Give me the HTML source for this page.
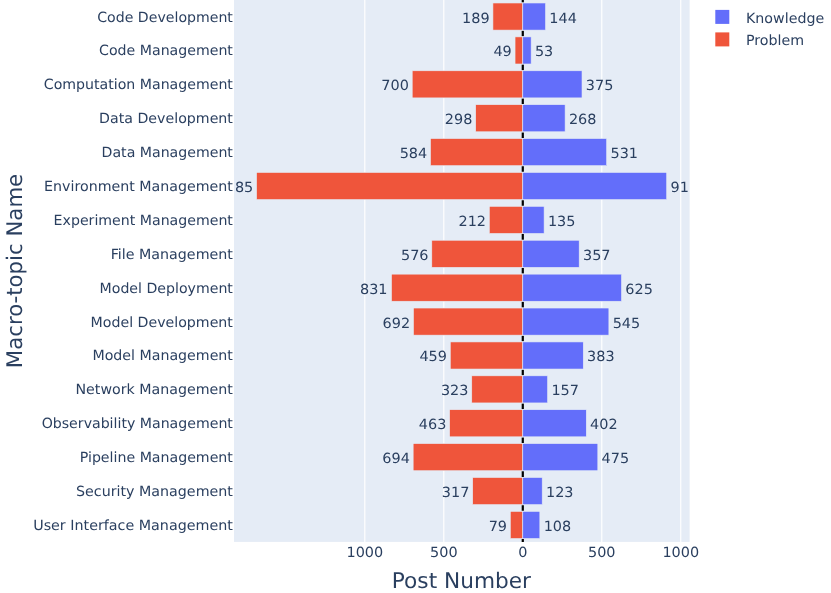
<!DOCTYPE html>
<html><head><meta charset="utf-8"><title>Macro-topic chart</title>
<style>html,body{margin:0;padding:0;background:#fff;width:831px;height:593px;overflow:hidden}</style>
</head><body>
<svg width="831" height="593" viewBox="0 0 831 593" style="display:block;filter:blur(0.35px)" font-family="DejaVu Sans, Verdana, sans-serif" font-size="14" fill="#2a3f5f" text-rendering="geometricPrecision">
<defs><clipPath id="pc"><rect x="234.0" y="-0.4" width="455.60" height="542.30"/></clipPath></defs>
<rect x="0" y="0" width="831" height="593" fill="#fff"/>
<rect x="234.0" y="-0.4" width="455.60" height="542.30" fill="#E5ECF6"/>
<line x1="364.80" y1="-0.4" x2="364.80" y2="541.9" stroke="#fff" stroke-width="1.17"/>
<line x1="443.79" y1="-0.4" x2="443.79" y2="541.9" stroke="#fff" stroke-width="1.17"/>
<line x1="601.77" y1="-0.4" x2="601.77" y2="541.9" stroke="#fff" stroke-width="1.17"/>
<line x1="680.75" y1="-0.4" x2="680.75" y2="541.9" stroke="#fff" stroke-width="1.17"/>
<path d="M522.78,-0.40V2.39 M522.78,30.70V36.28 M522.78,64.60V70.18 M522.78,98.49V104.07 M522.78,132.39V137.96 M522.78,166.28V171.86 M522.78,200.17V205.75 M522.78,234.07V239.65 M522.78,267.96V273.54 M522.78,301.85V307.43 M522.78,335.75V341.33 M522.78,369.64V375.22 M522.78,403.54V409.11 M522.78,437.43V443.01 M522.78,471.32V476.90 M522.78,505.22V510.80 M522.78,539.11V541.90" stroke="#000" stroke-width="2.2" fill="none"/>
<g clip-path="url(#pc)">
<rect x="492.92" y="2.99" width="29.86" height="27.11" fill="#EF553B" stroke="#E5ECF6" stroke-width="0.6"/>
<rect x="522.78" y="2.99" width="22.75" height="27.11" fill="#636EFA" stroke="#E5ECF6" stroke-width="0.6"/>
<rect x="515.04" y="36.88" width="7.74" height="27.11" fill="#EF553B" stroke="#E5ECF6" stroke-width="0.6"/>
<rect x="522.78" y="36.88" width="8.37" height="27.11" fill="#636EFA" stroke="#E5ECF6" stroke-width="0.6"/>
<rect x="412.20" y="70.78" width="110.58" height="27.11" fill="#EF553B" stroke="#E5ECF6" stroke-width="0.6"/>
<rect x="522.78" y="70.78" width="59.24" height="27.11" fill="#636EFA" stroke="#E5ECF6" stroke-width="0.6"/>
<rect x="475.70" y="104.67" width="47.08" height="27.11" fill="#EF553B" stroke="#E5ECF6" stroke-width="0.6"/>
<rect x="522.78" y="104.67" width="42.34" height="27.11" fill="#636EFA" stroke="#E5ECF6" stroke-width="0.6"/>
<rect x="430.52" y="138.56" width="92.26" height="27.11" fill="#EF553B" stroke="#E5ECF6" stroke-width="0.6"/>
<rect x="522.78" y="138.56" width="83.88" height="27.11" fill="#636EFA" stroke="#E5ECF6" stroke-width="0.6"/>
<rect x="256.59" y="172.46" width="266.19" height="27.11" fill="#EF553B" stroke="#E5ECF6" stroke-width="0.6"/>
<rect x="522.78" y="172.46" width="143.92" height="27.11" fill="#636EFA" stroke="#E5ECF6" stroke-width="0.6"/>
<rect x="489.29" y="206.35" width="33.49" height="27.11" fill="#EF553B" stroke="#E5ECF6" stroke-width="0.6"/>
<rect x="522.78" y="206.35" width="21.33" height="27.11" fill="#636EFA" stroke="#E5ECF6" stroke-width="0.6"/>
<rect x="431.79" y="240.25" width="90.99" height="27.11" fill="#EF553B" stroke="#E5ECF6" stroke-width="0.6"/>
<rect x="522.78" y="240.25" width="56.40" height="27.11" fill="#636EFA" stroke="#E5ECF6" stroke-width="0.6"/>
<rect x="391.50" y="274.14" width="131.28" height="27.11" fill="#EF553B" stroke="#E5ECF6" stroke-width="0.6"/>
<rect x="522.78" y="274.14" width="98.73" height="27.11" fill="#636EFA" stroke="#E5ECF6" stroke-width="0.6"/>
<rect x="413.46" y="308.03" width="109.32" height="27.11" fill="#EF553B" stroke="#E5ECF6" stroke-width="0.6"/>
<rect x="522.78" y="308.03" width="86.10" height="27.11" fill="#636EFA" stroke="#E5ECF6" stroke-width="0.6"/>
<rect x="450.27" y="341.93" width="72.51" height="27.11" fill="#EF553B" stroke="#E5ECF6" stroke-width="0.6"/>
<rect x="522.78" y="341.93" width="60.50" height="27.11" fill="#636EFA" stroke="#E5ECF6" stroke-width="0.6"/>
<rect x="471.75" y="375.82" width="51.03" height="27.11" fill="#EF553B" stroke="#E5ECF6" stroke-width="0.6"/>
<rect x="522.78" y="375.82" width="24.80" height="27.11" fill="#636EFA" stroke="#E5ECF6" stroke-width="0.6"/>
<rect x="449.64" y="409.71" width="73.14" height="27.11" fill="#EF553B" stroke="#E5ECF6" stroke-width="0.6"/>
<rect x="522.78" y="409.71" width="63.51" height="27.11" fill="#636EFA" stroke="#E5ECF6" stroke-width="0.6"/>
<rect x="413.15" y="443.61" width="109.63" height="27.11" fill="#EF553B" stroke="#E5ECF6" stroke-width="0.6"/>
<rect x="522.78" y="443.61" width="75.04" height="27.11" fill="#636EFA" stroke="#E5ECF6" stroke-width="0.6"/>
<rect x="472.70" y="477.50" width="50.08" height="27.11" fill="#EF553B" stroke="#E5ECF6" stroke-width="0.6"/>
<rect x="522.78" y="477.50" width="19.43" height="27.11" fill="#636EFA" stroke="#E5ECF6" stroke-width="0.6"/>
<rect x="510.30" y="511.40" width="12.48" height="27.11" fill="#EF553B" stroke="#E5ECF6" stroke-width="0.6"/>
<rect x="522.78" y="511.40" width="17.06" height="27.11" fill="#636EFA" stroke="#E5ECF6" stroke-width="0.6"/>
<text transform="translate(489.62,22.50) scale(1.0300,1.0000)" text-anchor="end">189</text>
<text transform="translate(549.33,22.50) scale(1.0300,1.0000)">144</text>
<text transform="translate(511.74,56.39) scale(1.0300,1.0000)" text-anchor="end">49</text>
<text transform="translate(534.95,56.39) scale(1.0300,1.0000)">53</text>
<text transform="translate(408.90,90.28) scale(1.0300,1.0000)" text-anchor="end">700</text>
<text transform="translate(585.82,90.28) scale(1.0300,1.0000)">375</text>
<text transform="translate(472.40,124.18) scale(1.0300,1.0000)" text-anchor="end">298</text>
<text transform="translate(568.92,124.18) scale(1.0300,1.0000)">268</text>
<text transform="translate(427.22,158.07) scale(1.0300,1.0000)" text-anchor="end">584</text>
<text transform="translate(610.46,158.07) scale(1.0300,1.0000)">531</text>
<text transform="translate(253.29,191.97) scale(1.0300,1.0000)" text-anchor="end">1685</text>
<text transform="translate(670.50,191.97) scale(1.0300,1.0000)">911</text>
<text transform="translate(485.99,225.86) scale(1.0300,1.0000)" text-anchor="end">212</text>
<text transform="translate(547.91,225.86) scale(1.0300,1.0000)">135</text>
<text transform="translate(428.49,259.75) scale(1.0300,1.0000)" text-anchor="end">576</text>
<text transform="translate(582.98,259.75) scale(1.0300,1.0000)">357</text>
<text transform="translate(387.50,293.65) scale(1.0300,1.0000)" text-anchor="end">831</text>
<text transform="translate(625.31,293.65) scale(1.0300,1.0000)">625</text>
<text transform="translate(410.16,327.54) scale(1.0300,1.0000)" text-anchor="end">692</text>
<text transform="translate(612.68,327.54) scale(1.0300,1.0000)">545</text>
<text transform="translate(446.97,361.43) scale(1.0300,1.0000)" text-anchor="end">459</text>
<text transform="translate(587.08,361.43) scale(1.0300,1.0000)">383</text>
<text transform="translate(468.45,395.33) scale(1.0300,1.0000)" text-anchor="end">323</text>
<text transform="translate(551.38,395.33) scale(1.0300,1.0000)">157</text>
<text transform="translate(446.34,429.22) scale(1.0300,1.0000)" text-anchor="end">463</text>
<text transform="translate(590.09,429.22) scale(1.0300,1.0000)">402</text>
<text transform="translate(409.85,463.12) scale(1.0300,1.0000)" text-anchor="end">694</text>
<text transform="translate(601.62,463.12) scale(1.0300,1.0000)">475</text>
<text transform="translate(469.40,497.01) scale(1.0300,1.0000)" text-anchor="end">317</text>
<text transform="translate(546.01,497.01) scale(1.0300,1.0000)">123</text>
<text transform="translate(507.00,530.90) scale(1.0300,1.0000)" text-anchor="end">79</text>
<text transform="translate(543.64,530.90) scale(1.0300,1.0000)">108</text>
</g>
<text transform="translate(232.90,21.55) scale(1.0082,1.0000)" text-anchor="end">Code Development</text>
<text transform="translate(232.90,55.44) scale(1.0098,1.0000)" text-anchor="end">Code Management</text>
<text transform="translate(232.90,89.33) scale(1.0096,1.0000)" text-anchor="end">Computation Management</text>
<text transform="translate(232.90,123.23) scale(1.0130,1.0000)" text-anchor="end">Data Development</text>
<text transform="translate(232.90,157.12) scale(1.0093,1.0000)" text-anchor="end">Data Management</text>
<text transform="translate(232.90,191.02) scale(1.0146,1.0000)" text-anchor="end">Environment Management</text>
<text transform="translate(232.90,224.91) scale(1.0096,1.0000)" text-anchor="end">Experiment Management</text>
<text transform="translate(232.90,258.80) scale(1.0176,1.0000)" text-anchor="end">File Management</text>
<text transform="translate(232.90,292.70) scale(1.0091,1.0000)" text-anchor="end">Model Deployment</text>
<text transform="translate(232.90,326.59) scale(1.0115,1.0000)" text-anchor="end">Model Development</text>
<text transform="translate(232.90,360.48) scale(1.0124,1.0000)" text-anchor="end">Model Management</text>
<text transform="translate(232.90,394.38) scale(1.0149,1.0000)" text-anchor="end">Network Management</text>
<text transform="translate(232.90,428.27) scale(1.0095,1.0000)" text-anchor="end">Observability Management</text>
<text transform="translate(232.90,462.17) scale(1.0113,1.0000)" text-anchor="end">Pipeline Management</text>
<text transform="translate(232.90,496.06) scale(1.0176,1.0000)" text-anchor="end">Security Management</text>
<text transform="translate(232.90,529.95) scale(1.0205,1.0000)" text-anchor="end">User Interface Management</text>
<text transform="translate(364.80,557.10) scale(1.0300,1.0000)" text-anchor="middle">1000</text>
<text transform="translate(443.79,557.10) scale(1.0300,1.0000)" text-anchor="middle">500</text>
<text transform="translate(522.78,557.10) scale(1.0300,1.0000)" text-anchor="middle">0</text>
<text transform="translate(601.77,557.10) scale(1.0300,1.0000)" text-anchor="middle">500</text>
<text transform="translate(680.75,557.10) scale(1.0300,1.0000)" text-anchor="middle">1000</text>
<text transform="translate(461.40,587.50) scale(1.0070,1.0000)" text-anchor="middle" font-size="21.5">Post Number</text>
<text transform="translate(21.60,271.00) rotate(-90) scale(0.989,1)" text-anchor="middle" font-size="21.5">Macro-topic Name</text>
<rect x="715.3" y="9.9" width="14" height="14" fill="#636EFA"/>
<rect x="715.3" y="32.4" width="14" height="14" fill="#EF553B"/>
<text transform="translate(746.00,23.10) scale(1.0160,1.0000)">Knowledge</text>
<text transform="translate(746.00,45.00) scale(1.0160,1.0000)">Problem</text>
</svg>
</body></html>
